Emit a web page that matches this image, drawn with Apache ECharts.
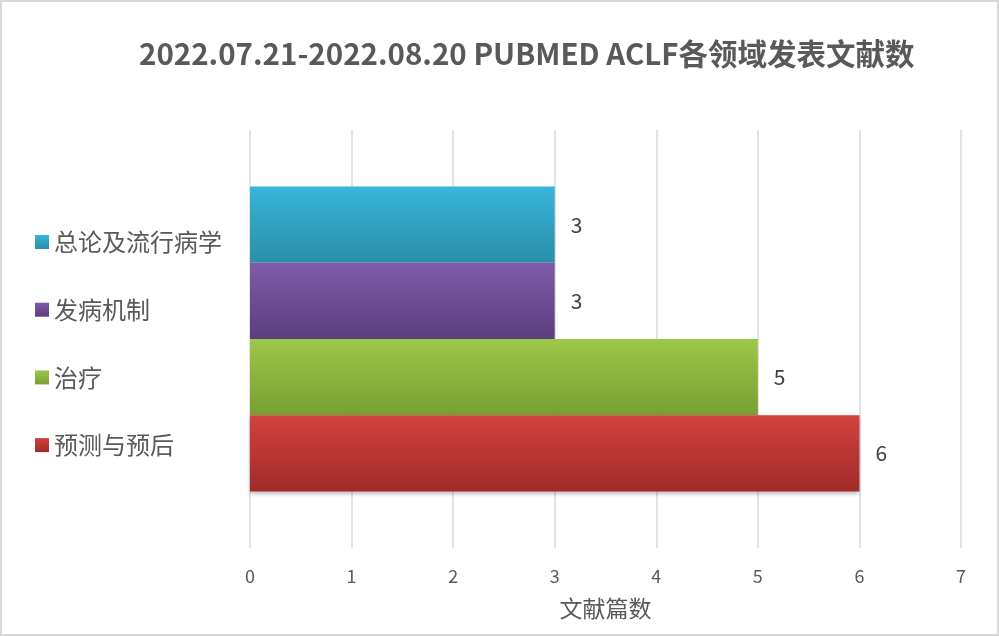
<!DOCTYPE html>
<html><head><meta charset="utf-8">
<script src="https://cdn.jsdelivr.net/npm/echarts@6/dist/echarts.min.js"></script>
<style>html,body{margin:0;padding:0;background:#fff}#c{width:999px;height:636px}</style>
</head><body><div id="c"></div>
<script>
const titleText = '2022.07.21-2022.08.20 PUBMED ACLF各领域发表文献数';
const categories = ['文献'];
const seriesNames = ['总论及流行病学', '发病机制', '治疗', '预测与预后'];
const seriesValues = [[3], [3], [5], [6]];
const legendOrder = ['总论及流行病学', '发病机制', '治疗', '预测与预后'];
const xTicks = [0, 1, 2, 3, 4, 5, 6, 7];
const xName = '文献篇数';
const colors = [
  ['#38b5d9', '#2a8ea8'],
  ['#7f5aa9', '#5c3e7f'],
  ['#9dc748', '#779f33'],
  ['#d3413d', '#a02b29']
];
const chart = echarts.init(document.getElementById('c'));
const font = '"Noto Sans CJK SC", "Open Sans", sans-serif';
chart.setOption({
  animation: false,
  backgroundColor: '#fff',
  title: {
    text: titleText, left: 134, top: 34,
    textStyle: { fontFamily: font, fontSize: 29.5, fontWeight: 'bold', color: '#595959' }
  },
  legend: {
    orient: 'vertical', left: 30, top: 223,
    data: legendOrder,
    itemWidth: 14, itemHeight: 14, itemGap: 39.7,
    icon: 'rect',
    textStyle: { fontFamily: font, fontSize: 24, lineHeight: 28, color: '#595959', padding: [0, 0, 0, 0] }
  },
  grid: { left: 250, right: 38, top: 130, bottom: 88, containLabel: false },
  xAxis: {
    type: 'value', min: 0, max: xTicks[xTicks.length - 1], interval: 1,
    axisLine: { show: false }, axisTick: { show: false },
    splitLine: { lineStyle: { color: '#d9d9d9', width: 1.5 } },
    axisLabel: { margin: 19, fontFamily: font, fontSize: 18, color: '#595959',
      formatter: v => xTicks.includes(v) ? String(v) : '' },
    name: xName, nameLocation: 'middle', nameGap: 49,
    nameTextStyle: { fontFamily: font, fontSize: 23, color: '#595959' }
  },
  yAxis: {
    type: 'category', data: categories, inverse: true,
    axisLine: { show: false }, axisTick: { show: false }, axisLabel: { show: false }
  },
  series: seriesNames.map((n, i) => ({
    name: n, type: 'bar', data: seriesValues[i],
    barGap: '0%', barCategoryGap: '27%',
    itemStyle: {
      color: new echarts.graphic.LinearGradient(0, 0, 0, 1, [
        { offset: 0, color: colors[i][0] }, { offset: 1, color: colors[i][1] }
      ]),
      shadowColor: 'rgba(0,0,0,0.25)', shadowBlur: i === 3 ? 4 : 0, shadowOffsetY: i === 3 ? 2 : 0
    },
    label: { show: true, position: 'right', distance: 16, fontFamily: font, fontSize: 21, color: '#404040' }
  })),
  graphic: [{
    type: 'rect', shape: { x: 1, y: 1, width: 997, height: 634 },
    style: { fill: 'none', stroke: '#d9d9d9', lineWidth: 2 }, silent: true
  }]
});
</script></body></html>
